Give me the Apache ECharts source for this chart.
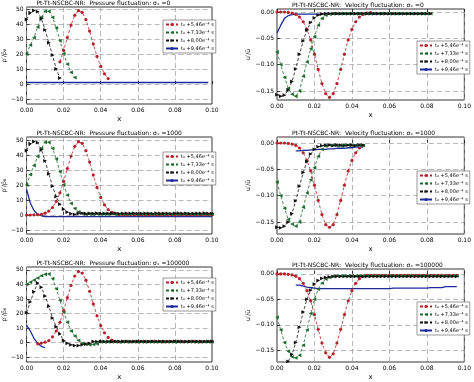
<!DOCTYPE html>
<html><head><meta charset="utf-8">
<script src="https://cdn.jsdelivr.net/npm/echarts@6/dist/echarts.min.js"></script>
<style>html,body{margin:0;padding:0;background:#fff}#c{width:474px;height:382px}</style>
</head><body><div id="c"></div>
<script>
// ---- data ----
const xGrid = [0.000,0.002,0.004,0.006,0.008,0.010,0.012,0.014,0.016,0.018,0.020,0.022,0.024,0.026,0.028,0.030,0.032,0.034,0.036,0.038,0.040,0.042,0.044,0.046,0.048,0.050,0.052,0.054,0.056,0.058,0.060,0.062,0.064,0.066,0.068,0.070,0.072,0.074,0.076,0.078,0.080,0.082,0.084,0.086,0.088,0.090,0.092,0.094,0.096,0.098,0.100];
const seriesNames = ['t\u2080 +5,46e\u207B\u2074 s','t\u2080 +7,33e\u207B\u2074 s','t\u2080 +8,00e\u207B\u2074 s','t\u2080 +9,46e\u207B\u2074 s'];
const titles = ['Pt-Tt-NSCBC-NR:  Pressure fluctuation: \u03C3\u2093 =0','Pt-Tt-NSCBC-NR:  Velocity fluctuation: \u03C3\u2093 =0',
  'Pt-Tt-NSCBC-NR:  Pressure fluctuation: \u03C3\u2093 =1000','Pt-Tt-NSCBC-NR:  Velocity fluctuation: \u03C3\u2093 =1000',
  'Pt-Tt-NSCBC-NR:  Pressure fluctuation: \u03C3\u2093 =100000','Pt-Tt-NSCBC-NR:  Velocity fluctuation: \u03C3\u2093 =100000'];
const xTicks = [0.00,0.02,0.04,0.06,0.08,0.10];

// pressure, sigma = 0
const p0Red   = [null,null,null,null,null,null,null,null,null,14.8,22.4,31.0,39.3,45.8,48.9,47.8,42.9,35.3,26.6,18.4,11.7,6.8,3.6];
const p0Green = [20,26,31,38,44.4,48.5,48.5,44.4,37.4,28.8,20.3,13.2,7.8,4.3];
const p0Black = [43,47.5,49,48.2,43.5,36.1,27.5,19.2,10.0,4.0];
const p0Blue  = [1.0,1.0,1.0,1.0,1.0,1.0,1.0,1.0,1.0,1.0,1.0,1.0,1.0,1.0,1.0,1.0,1.0,1.0,1.0,1.0,1.0,1.0,1.0,1.0,1.0,1.0,1.0,1.0,1.0,1.0,1.0,1.0,1.0,1.0,1.0,1.0,1.0,1.0,1.0,1.0,1.0,1.0,1.0,1.0,1.0,1.0,1.0,1.0,1.0,1.0];

// pressure, sigma = 1000
const p1Red   = [0,0,0.1,0.2,0.5,1.2,2.6,5.0,9.0,14.8,22.4,31.0,39.3,45.8,48.9,47.8,42.9,35.3,26.6,18.4,11.7,6.8,3.6,1.8,0.8,0.3,0.2,0.1,0.3,0.2,0.2,0.3,0.1,0.2,0.3,0.2,0.1,0.2,0.3,0.2,0.2,0.1,0.3,0.2,0.2,0.3,0.1,0.2,0.2,0.3,0.2];
const p1Green = [20,27,33,39,44.4,48.5,48.5,44.4,37.4,28.8,20.3,13.2,7.8,4.3,2.1,1.0,0.5,0.6,0.5,0.7,0.6,0.5,0.6,0.7,0.5,0.6,0.6,0.5,0.7,0.6,0.5,0.6,0.6,0.7,0.5,0.6,0.6,0.5,0.7,0.6,0.6,0.5,0.6,0.7,0.6,0.5,0.6,0.6,0.7,0.5,0.6];
const p1Black = [43,47.5,49,48.2,43.5,36.1,27.5,19.2,12.3,7.2,3.9,1.9,0.9,0.4,1.0,1.2,0.9,1.1,1.0,1.2,0.9,1.0,1.1,1.0,1.2,0.9,1.0,1.1,1.0,1.2,0.9,1.0,1.1,1.0,0.9,1.2,1.0,1.1,1.0,0.9,1.0,1.2,1.0,1.1,0.9,1.0,1.1,1.0,1.2,1.0,0.9];
const p1Blue  = [17,8,3,0.5,-0.5,-1.0,-1.1,-1.1,-1.1,-1.1,-1.1,-1.1,-1.1,-1.1,-1.1,-1.1,-1.1,-1.1,-1.1,-1.1,-1.1,-1.1,-1.1,-1.1,-1.1,-1.1,-1.1,-1.1,-1.1,-1.1,-1.1,-1.0,-1.0,-1.0,-1.0,-1.0,-1.0,-1.0,-1.0,-1.0,-1.0,-1.0,-1.0,-1.0,-1.0,-1.0,-1.0,-1.0,-1.0,-1.0,-1.0];

// pressure, sigma = 100000
const p2Red   = [null,null,null,-0.8,-0.3,0.3,1.4,4.0,8.0,14.0,22.0,31.0,39.3,45.8,48.9,47.8,42.9,35.3,26.6,18.4,11.7,6.8,3.6,1.8,0.8,0.6,0.8,0.9,0.7,0.8,0.9,0.8,0.7,0.8,0.9,0.8,0.8,0.7,0.9,0.8,0.8,0.9,0.7,0.8,0.8,0.9,0.8,0.7,0.8,0.9,0.8];
const p2Green = [40,41.5,43,44.5,46,47,47.2,44,37,29,21,14,8,4.5,1.5,-0.5,-1.2,-1.5,-1.2,-0.8,0.5,0.4,0.6,0.5,0.5,0.4,0.6,0.5,0.5,0.6,0.4,0.5,0.5,0.6,0.5,0.4,0.5,0.6,0.5,0.5,0.4,0.6,0.5,0.5,0.6,0.5,0.4,0.5,0.6,0.5,0.5];
const p2Black = [20.6,28,35,41,38,32,25,17,11,6,1.5,-0.5,-1.5,-2.0,-2.0,-1.5,-1.0,-0.5,0.8,0.7,0.9,0.8,0.8,0.7,0.9,0.8,0.8,0.9,0.7,0.8,0.8,0.9,0.8,0.7,0.8,0.8,0.9,0.8,0.7,0.8,0.9,0.8,0.8,0.7,0.8,0.9,0.8,0.8,0.7,0.8,0.8];
const p2Blue  = [12,8,3,-0.5,-2.5,-3.5];

// velocity, sigma = 0
const v0Red   = [0,0,0,-0.0008,-0.002,-0.0045,-0.0095,-0.0185,-0.033,-0.053,-0.080,-0.109,-0.136,-0.155,-0.162,-0.155,-0.136,-0.109,-0.080,-0.053,-0.033,-0.0185,-0.0095,-0.0045,-0.002,-0.001];
const v0Green = [-0.076,-0.100,-0.124,-0.145,-0.156,-0.160,-0.150,-0.122,-0.095,-0.070,-0.047,-0.025,-0.012,-0.006,-0.004,-0.003,-0.003,-0.003,-0.003,-0.003,-0.003,-0.003,-0.003,-0.003,-0.003,-0.003,-0.003,-0.003,-0.003,-0.003,-0.003,-0.003,-0.003,-0.003,-0.003,-0.003,-0.003,-0.003,-0.003,-0.003,-0.003,-0.003];
const v0Black = [-0.157,-0.160,-0.158,-0.148,-0.132,-0.108,-0.080,-0.055,-0.034,-0.020,-0.011,-0.006,-0.004,-0.003,-0.003,-0.003,-0.003,-0.003,-0.003,-0.003,-0.003,-0.003,-0.003,-0.003,-0.003,-0.003,-0.003,-0.003,-0.003,-0.003,-0.003,-0.003,-0.003,-0.003,-0.003,-0.003,-0.003,-0.003,-0.003,-0.003,-0.003,-0.003];
const v0Blue  = [-0.040,-0.025,-0.012,-0.007,-0.005,-0.004,-0.004,-0.004,-0.004,-0.004,-0.004,-0.004,-0.004,-0.004,-0.004,-0.004,-0.004,-0.004,-0.004,-0.004,-0.004,-0.004,-0.004,-0.004,-0.004,-0.004,-0.004,-0.004,-0.004,-0.004,-0.004,-0.004,-0.004,-0.004,-0.004,-0.004,-0.004,-0.004,-0.004,-0.004,-0.004,-0.004];

// velocity, sigma = 1000
const v1Red   = [0,0,0,-0.0008,-0.002,-0.0045,-0.0095,-0.0185,-0.033,-0.053,-0.080,-0.109,-0.136,-0.155,-0.160,-0.155,-0.136,-0.109,-0.080,-0.053,-0.033,-0.0185,-0.0095,-0.0045];
const v1Green = [-0.074,-0.100,-0.124,-0.145,-0.154,-0.158,-0.150,-0.122,-0.095,-0.070,-0.047,-0.025,-0.012,-0.006,-0.004,-0.004,-0.005,-0.005,-0.004,-0.004,-0.005,-0.004,-0.004,-0.005];
const v1Black = [-0.160,-0.161,-0.158,-0.150,-0.134,-0.110,-0.082,-0.056,-0.035,-0.021,-0.012,-0.007,-0.005,-0.004,-0.004,-0.005,-0.004,-0.004,-0.005,-0.004,-0.004,-0.005,-0.004,-0.004];
const v1Blue  = [null,null,null,null,null,-0.015,-0.015,-0.014,-0.014,-0.013,-0.013,-0.012,-0.012,-0.012,-0.011,-0.011,-0.010,-0.010,-0.010,-0.009,-0.009,-0.008,-0.008,-0.008];

// velocity, sigma = 100000
const v2Red   = [0,0,0,-0.0008,-0.002,-0.0045,-0.0095,-0.0185,-0.033,-0.053,-0.080,-0.109,-0.136,-0.155,-0.164,-0.157,-0.136,-0.109,-0.080,-0.053,-0.033,-0.0185,-0.0095,-0.0045,-0.003,-0.003,-0.003,-0.003,-0.003,-0.003,-0.003,-0.003,-0.003,-0.003,-0.003,-0.003,-0.003,-0.003,-0.003,-0.003,-0.003,-0.003,-0.003,-0.003,-0.003,-0.003,-0.003,-0.003,-0.003];
const v2Green = [-0.085,-0.110,-0.135,-0.152,-0.163,-0.165,-0.160,-0.140,-0.110,-0.078,-0.050,-0.030,-0.018,-0.010,-0.007,-0.005,-0.004,-0.004,-0.004,-0.004,-0.004,-0.004,-0.004,-0.004,-0.004,-0.004,-0.004,-0.004,-0.004,-0.004,-0.004,-0.004,-0.004,-0.004,-0.004,-0.004,-0.004,-0.004,-0.004,-0.004,-0.004,-0.004,-0.004,-0.004,-0.004,-0.004,-0.004,-0.004,-0.004];
const v2Black = [null,null,-0.178,-0.172,-0.158,-0.135,-0.105,-0.075,-0.050,-0.032,-0.020,-0.013,-0.009,-0.007,-0.006,-0.005,-0.005,-0.005,-0.005,-0.005,-0.005,-0.005,-0.005,-0.005,-0.005,-0.005,-0.005,-0.005,-0.005,-0.005,-0.005,-0.005,-0.005,-0.005,-0.005,-0.005,-0.005,-0.005,-0.005,-0.005,-0.005,-0.005,-0.005,-0.005,-0.005,-0.005,-0.005,-0.005,-0.005];
const v2Blue  = [null,null,null,null,null,-0.022,-0.022,-0.024,-0.026,-0.027,-0.028,-0.029,-0.029,-0.029,-0.029,-0.029,-0.029,-0.029,-0.029,-0.029,-0.029,-0.029,-0.029,-0.029,-0.029,-0.029,-0.029,-0.029,-0.029,-0.029,-0.029,-0.028,-0.028,-0.028,-0.028,-0.028,-0.028,-0.028,-0.028,-0.028,-0.028,-0.027,-0.027,-0.027,-0.027,-0.025,-0.025,-0.025,-0.025];

// ---- layout / style ----
const plotData = [
  [p0Red,p0Green,p0Black,p0Blue],[v0Red,v0Green,v0Black,v0Blue],
  [p1Red,p1Green,p1Black,p1Blue],[v1Red,v1Green,v1Black,v1Blue],
  [p2Red,p2Green,p2Black,p2Blue],[v2Red,v2Green,v2Black,v2Blue]];
const grids = [
  {left:21,top:7,width:191,height:97},{left:277,top:9,width:190,height:91},
  {left:21,top:137,width:191,height:97},{left:277,top:137,width:190,height:97},
  {left:21,top:267,width:191,height:99},{left:277,top:269,width:190,height:95}];
const yRanges = [[-13.33,51.33],[-0.1671,0.0057],[-12.67,52],[-0.1728,0.0114],[-13.3,51.98],[-0.1731,0.0096]];
const legendPos = [[163,20],[417,41],[163,152],[417,171],[163,278],[417,302]];
const colors = ['#b3232b','#1e6a2c','#111111','#1c2a9a'];
const FONT = 'DejaVu Sans';

function fmtY(isVel){
  return v => {
    if (Math.abs(v) < 1e-9) return isVel ? '0.00' : '0';
    const s = isVel ? v.toFixed(2) : String(Math.round(v));
    return s.replace('-', '\u2212');
  };
}
const styleOf = [
  {symbol:'circle', symbolSize:3.2, rotate:0, line:'dashed'},
  {symbol:'triangle', symbolSize:3.8, rotate:90, line:'dashed'},
  {symbol:'triangle', symbolSize:3.8, rotate:-90, line:'dashed'},
  {symbol:'none', symbolSize:0, rotate:0, line:'solid'}];

const xAxis = [], yAxis = [], series = [], legend = [], graphic = [];
grids.forEach((g, i) => {
  const isVel = i % 2 === 1;
  xAxis.push({gridIndex:i, type:'value', min:0, max:0.1, interval:0.02,
    name:'x', nameLocation:'middle', nameGap:12, nameTextStyle:{fontSize:7, fontFamily:FONT, color:'#000'},
    axisLine:{show:false}, axisTick:{inside:true, length:3, lineStyle:{color:'#000', width:0.7}},
    axisLabel:{fontSize:6, fontFamily:FONT, color:'#000', margin:3, formatter:v=>v.toFixed(2)},
    splitLine:{show:true, lineStyle:{color:'#9a9a9a', width:0.7, type:[5,3]}}});
  yAxis.push({gridIndex:i, type:'value', min:yRanges[i][0], max:yRanges[i][1], splitNumber:isVel?4:6,
    name: isVel ? 'u\u2032/\u016B' : 'p\u2032/p\u0304\u2080', nameLocation:'middle', nameGap: isVel?22:14,
    nameTextStyle:{fontSize:6, fontFamily:FONT, color:'#000'},
    axisLine:{show:false}, axisTick:{inside:true, length:3, lineStyle:{color:'#000', width:0.7}},
    axisLabel:{fontSize:6, fontFamily:FONT, color:'#000', margin:3, showMinLabel:false, showMaxLabel:false, formatter:fmtY(isVel)},
    splitLine:{show:true, lineStyle:{color:'#9a9a9a', width:0.7, type:[5,3]}}});
  plotData[i].forEach((ys, k) => {
    const st = styleOf[k];
    const pts = [];
    ys.forEach((y, j) => { if (y !== null) pts.push([xGrid[j], y]); });
    series.push({type:'line', name:seriesNames[k], xAxisIndex:i, yAxisIndex:i, data:pts,
      symbol:st.symbol, symbolSize:st.symbolSize, symbolRotate:st.rotate, showSymbol:st.symbol!=='none',
      lineStyle:{color:colors[k], width:k===3?1.3:0.8, type:st.line==='dashed'?[3,2]:'solid'},
      itemStyle:{color:colors[k]}, animation:false, z:k===3?1:2});
  });
  legend.push({data:seriesNames, orient:'vertical', left:legendPos[i][0], top:legendPos[i][1],
    itemWidth:12, itemHeight:4, itemGap:3, padding:2, backgroundColor:'#fff',
    borderColor:'#555', borderWidth:0.6, selectedMode:false,
    textStyle:{fontSize:5, fontFamily:FONT, color:'#000', padding:[0,0,0,-2]}});
  graphic.push({type:'text', left:g.left + g.width/2 - 80, top:g.top - 7,
    style:{text:titles[i], fontSize:6, fontFamily:FONT, fill:'#000', width:160, align:'center'}});
});

const chart = echarts.init(document.getElementById('c'), null, {renderer:'canvas'});
chart.setOption({
  animation:false,
  grid: grids.map(g => Object.assign({show:true, borderColor:'#000', borderWidth:0.8, backgroundColor:'transparent'}, g)),
  xAxis, yAxis, series, legend, graphic
});
</script>
</body></html>
